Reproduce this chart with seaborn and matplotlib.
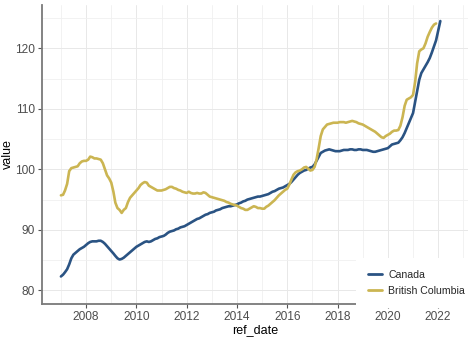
import numpy as np
import pandas as pd
import matplotlib
matplotlib.use("Agg")
import matplotlib.pyplot as plt
import matplotlib.dates as mdates
import seaborn as sns

# ---- data (monthly index values) ----
canada_start = "2007-01-01"
canada = [
    82.3, 82.6, 83.0, 83.5, 84.3, 85.3, 85.9, 86.2, 86.5, 86.8, 87.0, 87.2,   # 2007
    87.5, 87.8, 88.0, 88.1, 88.1, 88.1, 88.2, 88.2, 88.0, 87.7, 87.3, 86.9,   # 2008
    86.5, 86.1, 85.7, 85.3, 85.1, 85.2, 85.4, 85.7, 86.0, 86.3, 86.6, 86.9,   # 2009
    87.2, 87.4, 87.6, 87.8, 88.0, 88.1, 88.0, 88.1, 88.3, 88.5, 88.6, 88.8,   # 2010
    88.9, 89.0, 89.2, 89.5, 89.7, 89.8, 89.9, 90.1, 90.2, 90.4, 90.5, 90.6,   # 2011
    90.8, 91.0, 91.2, 91.4, 91.6, 91.8, 91.9, 92.1, 92.3, 92.5, 92.6, 92.8,   # 2012
    92.9, 93.0, 93.2, 93.3, 93.4, 93.6, 93.7, 93.8, 93.9, 93.9, 94.0, 94.1,   # 2013
    94.2, 94.4, 94.5, 94.7, 94.8, 95.0, 95.1, 95.2, 95.3, 95.4, 95.5, 95.5,   # 2014
    95.6, 95.7, 95.8, 95.9, 96.1, 96.3, 96.4, 96.6, 96.8, 96.9, 97.0, 97.2,   # 2015
    97.4, 97.6, 97.9, 98.3, 98.7, 99.1, 99.4, 99.6, 99.8, 99.9, 100.1, 100.3, # 2016
    100.4, 100.8, 101.4, 102.1, 102.7, 102.9, 103.1, 103.2, 103.3, 103.2, 103.1, 103.0,  # 2017
    103.0, 103.0, 103.1, 103.2, 103.2, 103.2, 103.3, 103.3, 103.2, 103.2, 103.3, 103.3,  # 2018
    103.2, 103.2, 103.2, 103.1, 103.0, 102.9, 102.9, 103.0, 103.1, 103.2, 103.3, 103.4,  # 2019
    103.5, 103.8, 104.1, 104.2, 104.3, 104.4, 104.8, 105.3, 106.0, 106.8, 107.6, 108.4,  # 2020
    109.3, 111.2, 113.0, 114.8, 115.9, 116.5, 117.1, 117.7, 118.4, 119.3, 120.3, 121.3,  # 2021
    122.9, 124.5,                                                                         # 2022
]

bc_start = "2007-01-01"
british_columbia = [
    95.7, 95.8, 96.5, 97.6, 99.7, 100.2, 100.3, 100.4, 100.5, 101.0, 101.3, 101.4,   # 2007
    101.4, 101.6, 102.1, 102.0, 101.8, 101.8, 101.7, 101.6, 101.0, 100.0, 99.0, 98.5, # 2008
    97.8, 96.3, 94.5, 93.6, 93.3, 92.8, 93.3, 93.6, 94.6, 95.3, 95.7, 96.1,          # 2009
    96.5, 96.9, 97.4, 97.7, 97.9, 97.8, 97.3, 97.1, 96.9, 96.7, 96.5, 96.5,          # 2010
    96.5, 96.6, 96.7, 96.9, 97.1, 97.1, 96.9, 96.8, 96.6, 96.5, 96.3, 96.2,          # 2011
    96.1, 96.3, 96.1, 96.0, 96.0, 96.1, 96.0, 96.0, 96.2, 96.1, 95.8, 95.5,          # 2012
    95.4, 95.3, 95.2, 95.1, 95.0, 94.9, 94.8, 94.6, 94.5, 94.3, 94.2, 94.1,          # 2013
    94.0, 93.8, 93.6, 93.5, 93.3, 93.3, 93.5, 93.7, 93.9, 93.8, 93.6, 93.6,          # 2014
    93.5, 93.5, 93.8, 94.0, 94.3, 94.6, 94.9, 95.3, 95.7, 96.0, 96.3, 96.6,          # 2015
    96.8, 97.5, 98.3, 99.1, 99.5, 99.7, 99.8, 100.0, 100.3, 100.4, 100.1, 99.8,      # 2016
    99.9, 100.4, 101.6, 103.5, 105.5, 106.6, 107.0, 107.4, 107.5, 107.6, 107.7, 107.7,  # 2017
    107.7, 107.8, 107.8, 107.8, 107.7, 107.8, 107.9, 108.0, 107.9, 107.8, 107.6, 107.5,  # 2018
    107.4, 107.2, 107.0, 106.8, 106.6, 106.4, 106.2, 105.9, 105.6, 105.3, 105.2, 105.5,  # 2019
    105.7, 105.9, 106.2, 106.4, 106.4, 106.5, 107.2, 108.6, 110.5, 111.5, 111.7, 111.9,  # 2020
    112.3, 114.5, 117.5, 119.5, 119.8, 120.0, 120.8, 121.9, 122.7, 123.4, 123.9, 124.1,  # 2021
]

series_names = ["Canada", "British Columbia"]
series_colors = ["#2a5383", "#cbb552"]
x_ticks = ["2008", "2010", "2012", "2014", "2016", "2018", "2020", "2022"]
y_ticks = [80, 90, 100, 110, 120]

df = pd.concat([
    pd.DataFrame({"ref_date": pd.date_range(canada_start, periods=len(canada), freq="MS"),
                  "value": canada, "GEO": series_names[0]}),
    pd.DataFrame({"ref_date": pd.date_range(bc_start, periods=len(british_columbia), freq="MS"),
                  "value": british_columbia, "GEO": series_names[1]}),
], ignore_index=True)

# ---- figure ----
sns.set_theme(style="white")
plt.rcParams["font.family"] = ["Liberation Sans", "DejaVu Sans"]

fig = plt.figure(figsize=(4.74, 3.38), dpi=100)
ax = fig.add_axes([42 / 474, 34 / 338, (468 - 42) / 474, (333 - 34) / 338])

sns.lineplot(data=df, x="ref_date", y="value", hue="GEO", hue_order=series_names,
             palette=series_colors, linewidth=1.9, ax=ax, zorder=3)

ax.set_xlim(pd.Timestamp("2006-04-01"), pd.Timestamp("2023-03-10"))
ax.set_ylim(77.75, 127.15)

ax.set_xticks([pd.Timestamp(f"{y}-01-01") for y in x_ticks])
ax.set_xticklabels(x_ticks)
ax.set_xticks([pd.Timestamp(f"{y}-01-01") for y in range(2007, 2024, 2)], minor=True)
ax.set_yticks(y_ticks)
ax.set_yticklabels([str(v) for v in y_ticks])
ax.set_yticks([85, 95, 105, 115, 125], minor=True)

ax.grid(True, which="major", color="#e8e8e8", linewidth=0.7, zorder=0)
ax.grid(True, which="minor", color="#f0f0f0", linewidth=0.6, zorder=0)
ax.set_axisbelow(True)

for s in ["top", "right"]:
    ax.spines[s].set_visible(False)
for s in ["left", "bottom"]:
    ax.spines[s].set_color("#7a7a7a")
    ax.spines[s].set_linewidth(1.3)

ax.tick_params(axis="both", which="major", length=3, width=0.8, color="#555555",
               labelsize=8.6, labelcolor="#4d4d4d", pad=2, bottom=True, left=True)
ax.tick_params(axis="both", which="minor", length=0, bottom=False, left=False)

ax.set_xlabel("ref_date", fontsize=9, color="black", labelpad=1)
ax.set_ylabel("value", fontsize=9, color="black", labelpad=1)

leg = ax.legend(title=None, loc="lower right", bbox_to_anchor=(1.02, -0.012),
                frameon=True, fontsize=7.6, handlelength=1.3, handletextpad=0.6,
                borderpad=1.1, labelspacing=0.6, borderaxespad=0.0)
leg.get_frame().set_facecolor("white")
leg.get_frame().set_edgecolor("none")
leg.get_frame().set_alpha(1.0)
leg.get_frame().set_boxstyle("square", pad=0)
leg.set_zorder(5)
for line in leg.get_lines():
    line.set_linewidth(2.0)

fig.savefig("out.png", dpi=100)
